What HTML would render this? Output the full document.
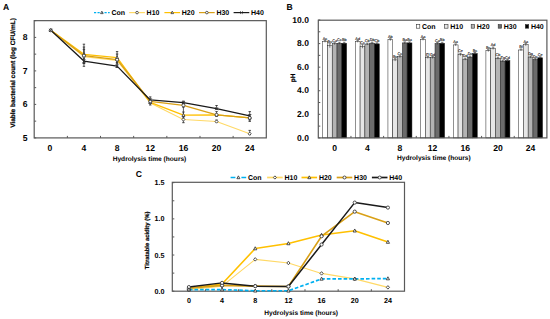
<!DOCTYPE html><html><head><meta charset="utf-8"><style>html,body{margin:0;padding:0;background:#fff;width:550px;height:319px;overflow:hidden}svg{display:block}text{font-family:"Liberation Sans",sans-serif;text-rendering:geometricPrecision}</style></head><body>
<svg width="550" height="319" viewBox="0 0 550 319">
<rect width="550" height="319" fill="#fff"/>
<text x="3.00" y="10.40" font-size="8.6" text-anchor="start" font-weight="bold" fill="#000" >A</text>
<rect x="34.2" y="20.65" width="232.10000000000002" height="117.25" fill="none" stroke="#595959" stroke-width="1.2"/>
<line x1="34.20" y1="137.90" x2="36.20" y2="137.90" stroke="#595959" stroke-width="1" />
<line x1="34.20" y1="121.15" x2="36.20" y2="121.15" stroke="#595959" stroke-width="1" />
<line x1="34.20" y1="104.40" x2="36.20" y2="104.40" stroke="#595959" stroke-width="1" />
<line x1="34.20" y1="87.65" x2="36.20" y2="87.65" stroke="#595959" stroke-width="1" />
<line x1="34.20" y1="70.90" x2="36.20" y2="70.90" stroke="#595959" stroke-width="1" />
<line x1="34.20" y1="54.15" x2="36.20" y2="54.15" stroke="#595959" stroke-width="1" />
<line x1="34.20" y1="37.40" x2="36.20" y2="37.40" stroke="#595959" stroke-width="1" />
<line x1="34.20" y1="20.65" x2="36.20" y2="20.65" stroke="#595959" stroke-width="1" />
<text x="27.60" y="140.90" font-size="8.6" text-anchor="end" font-weight="bold" fill="#000" >5</text>
<text x="27.60" y="107.40" font-size="8.6" text-anchor="end" font-weight="bold" fill="#000" >6</text>
<text x="27.60" y="73.90" font-size="8.6" text-anchor="end" font-weight="bold" fill="#000" >7</text>
<text x="27.60" y="40.40" font-size="8.6" text-anchor="end" font-weight="bold" fill="#000" >8</text>
<line x1="67.36" y1="137.90" x2="67.36" y2="135.90" stroke="#595959" stroke-width="1" />
<line x1="100.51" y1="137.90" x2="100.51" y2="135.90" stroke="#595959" stroke-width="1" />
<line x1="133.67" y1="137.90" x2="133.67" y2="135.90" stroke="#595959" stroke-width="1" />
<line x1="166.83" y1="137.90" x2="166.83" y2="135.90" stroke="#595959" stroke-width="1" />
<line x1="199.99" y1="137.90" x2="199.99" y2="135.90" stroke="#595959" stroke-width="1" />
<line x1="233.14" y1="137.90" x2="233.14" y2="135.90" stroke="#595959" stroke-width="1" />
<text x="49.78" y="151.40" font-size="8.6" text-anchor="middle" font-weight="bold" fill="#000" >0</text>
<text x="83.94" y="151.40" font-size="8.6" text-anchor="middle" font-weight="bold" fill="#000" >4</text>
<text x="117.09" y="151.40" font-size="8.6" text-anchor="middle" font-weight="bold" fill="#000" >8</text>
<text x="150.25" y="151.40" font-size="8.6" text-anchor="middle" font-weight="bold" fill="#000" >12</text>
<text x="183.41" y="151.40" font-size="8.6" text-anchor="middle" font-weight="bold" fill="#000" >16</text>
<text x="216.56" y="151.40" font-size="8.6" text-anchor="middle" font-weight="bold" fill="#000" >20</text>
<text x="249.72" y="151.40" font-size="8.6" text-anchor="middle" font-weight="bold" fill="#000" >24</text>
<text x="149.50" y="161.10" font-size="6.6" text-anchor="middle" font-weight="bold" fill="#000" >Hydrolysis time (hours)</text>
<text x="0.00" y="0.00" font-size="6.5" text-anchor="middle" font-weight="bold" fill="#000" transform="translate(14.6,73) rotate(-90)" stroke="#000" stroke-width="0.2">Viable bacterial count (log CFU/mL)</text>
<line x1="83.94" y1="44.20" x2="83.94" y2="63.60" stroke="#333" stroke-width="0.8" />
<line x1="82.74" y1="44.20" x2="85.14" y2="44.20" stroke="#333" stroke-width="0.9" />
<line x1="82.74" y1="63.60" x2="85.14" y2="63.60" stroke="#333" stroke-width="0.9" />
<line x1="83.94" y1="47.00" x2="83.94" y2="63.40" stroke="#333" stroke-width="0.8" />
<line x1="82.74" y1="47.00" x2="85.14" y2="47.00" stroke="#333" stroke-width="0.9" />
<line x1="82.74" y1="63.40" x2="85.14" y2="63.40" stroke="#333" stroke-width="0.9" />
<line x1="83.94" y1="49.40" x2="83.94" y2="63.00" stroke="#333" stroke-width="0.8" />
<line x1="82.74" y1="49.40" x2="85.14" y2="49.40" stroke="#333" stroke-width="0.9" />
<line x1="82.74" y1="63.00" x2="85.14" y2="63.00" stroke="#333" stroke-width="0.9" />
<line x1="83.94" y1="53.70" x2="83.94" y2="66.30" stroke="#333" stroke-width="0.8" />
<line x1="82.74" y1="53.70" x2="85.14" y2="53.70" stroke="#333" stroke-width="0.9" />
<line x1="82.74" y1="66.30" x2="85.14" y2="66.30" stroke="#333" stroke-width="0.9" />
<line x1="117.09" y1="51.60" x2="117.09" y2="63.00" stroke="#333" stroke-width="0.8" />
<line x1="115.89" y1="51.60" x2="118.29" y2="51.60" stroke="#333" stroke-width="0.9" />
<line x1="115.89" y1="63.00" x2="118.29" y2="63.00" stroke="#333" stroke-width="0.9" />
<line x1="117.09" y1="54.00" x2="117.09" y2="64.20" stroke="#333" stroke-width="0.8" />
<line x1="115.89" y1="54.00" x2="118.29" y2="54.00" stroke="#333" stroke-width="0.9" />
<line x1="115.89" y1="64.20" x2="118.29" y2="64.20" stroke="#333" stroke-width="0.9" />
<line x1="117.09" y1="62.50" x2="117.09" y2="67.50" stroke="#333" stroke-width="0.8" />
<line x1="115.89" y1="62.50" x2="118.29" y2="62.50" stroke="#333" stroke-width="0.9" />
<line x1="115.89" y1="67.50" x2="118.29" y2="67.50" stroke="#333" stroke-width="0.9" />
<line x1="150.25" y1="96.90" x2="150.25" y2="101.00" stroke="#333" stroke-width="0.8" />
<line x1="149.05" y1="96.90" x2="151.45" y2="96.90" stroke="#333" stroke-width="0.9" />
<line x1="149.05" y1="101.00" x2="151.45" y2="101.00" stroke="#333" stroke-width="0.9" />
<line x1="150.25" y1="99.00" x2="150.25" y2="105.00" stroke="#333" stroke-width="0.8" />
<line x1="149.05" y1="99.00" x2="151.45" y2="99.00" stroke="#333" stroke-width="0.9" />
<line x1="149.05" y1="105.00" x2="151.45" y2="105.00" stroke="#333" stroke-width="0.9" />
<line x1="183.41" y1="101.10" x2="183.41" y2="107.20" stroke="#333" stroke-width="0.8" />
<line x1="182.21" y1="101.10" x2="184.61" y2="101.10" stroke="#333" stroke-width="0.9" />
<line x1="182.21" y1="107.20" x2="184.61" y2="107.20" stroke="#333" stroke-width="0.9" />
<line x1="183.41" y1="103.50" x2="183.41" y2="115.20" stroke="#333" stroke-width="0.8" />
<line x1="182.21" y1="103.50" x2="184.61" y2="103.50" stroke="#333" stroke-width="0.9" />
<line x1="182.21" y1="115.20" x2="184.61" y2="115.20" stroke="#333" stroke-width="0.9" />
<line x1="183.41" y1="112.00" x2="183.41" y2="118.00" stroke="#333" stroke-width="0.8" />
<line x1="182.21" y1="112.00" x2="184.61" y2="112.00" stroke="#333" stroke-width="0.9" />
<line x1="182.21" y1="118.00" x2="184.61" y2="118.00" stroke="#333" stroke-width="0.9" />
<line x1="183.41" y1="116.50" x2="183.41" y2="122.70" stroke="#333" stroke-width="0.8" />
<line x1="182.21" y1="116.50" x2="184.61" y2="116.50" stroke="#333" stroke-width="0.9" />
<line x1="182.21" y1="122.70" x2="184.61" y2="122.70" stroke="#333" stroke-width="0.9" />
<line x1="216.56" y1="105.50" x2="216.56" y2="109.30" stroke="#333" stroke-width="0.8" />
<line x1="215.36" y1="105.50" x2="217.76" y2="105.50" stroke="#333" stroke-width="0.9" />
<line x1="215.36" y1="109.30" x2="217.76" y2="109.30" stroke="#333" stroke-width="0.9" />
<line x1="216.56" y1="111.60" x2="216.56" y2="116.30" stroke="#333" stroke-width="0.8" />
<line x1="215.36" y1="111.60" x2="217.76" y2="111.60" stroke="#333" stroke-width="0.9" />
<line x1="215.36" y1="116.30" x2="217.76" y2="116.30" stroke="#333" stroke-width="0.9" />
<line x1="216.56" y1="120.00" x2="216.56" y2="122.00" stroke="#333" stroke-width="0.8" />
<line x1="215.36" y1="120.00" x2="217.76" y2="120.00" stroke="#333" stroke-width="0.9" />
<line x1="215.36" y1="122.00" x2="217.76" y2="122.00" stroke="#333" stroke-width="0.9" />
<line x1="249.72" y1="111.60" x2="249.72" y2="121.40" stroke="#333" stroke-width="0.8" />
<line x1="248.52" y1="111.60" x2="250.92" y2="111.60" stroke="#333" stroke-width="0.9" />
<line x1="248.52" y1="121.40" x2="250.92" y2="121.40" stroke="#333" stroke-width="0.9" />
<line x1="249.72" y1="114.50" x2="249.72" y2="120.00" stroke="#333" stroke-width="0.8" />
<line x1="248.52" y1="114.50" x2="250.92" y2="114.50" stroke="#333" stroke-width="0.9" />
<line x1="248.52" y1="120.00" x2="250.92" y2="120.00" stroke="#333" stroke-width="0.9" />
<line x1="249.72" y1="130.40" x2="249.72" y2="134.60" stroke="#333" stroke-width="0.8" />
<line x1="248.52" y1="130.40" x2="250.92" y2="130.40" stroke="#333" stroke-width="0.9" />
<line x1="248.52" y1="134.60" x2="250.92" y2="134.60" stroke="#333" stroke-width="0.9" />
<polyline points="50.78,30.30 83.94,56.67 117.09,60.38 150.25,102.97 183.41,119.53 216.56,121.56 249.72,133.73" fill="none" stroke="#ffd966" stroke-width="1.1" stroke-linejoin="round" />
<polyline points="50.78,30.30 83.94,54.30 117.09,57.68 150.25,102.30 183.41,115.14 216.56,114.80 249.72,117.84" fill="none" stroke="#ffc000" stroke-width="1.3" stroke-linejoin="round" />
<polyline points="50.78,30.30 83.94,55.65 117.09,59.71 150.25,101.28 183.41,105.34 216.56,114.80 249.72,117.84" fill="none" stroke="#d9a016" stroke-width="1.3" stroke-linejoin="round" />
<polyline points="50.78,30.30 83.94,61.06 117.09,66.13 150.25,99.93 183.41,102.63 216.56,108.72 249.72,115.92" fill="none" stroke="#1a1a1a" stroke-width="1.3" stroke-linejoin="round" />
<polygon points="50.78,28.65 52.28,30.30 50.78,31.95 49.28,30.30" fill="#fff" stroke="#333" stroke-width="0.8"/>
<polygon points="83.94,55.02 85.44,56.67 83.94,58.32 82.44,56.67" fill="#fff" stroke="#333" stroke-width="0.8"/>
<polygon points="117.09,58.73 118.59,60.38 117.09,62.03 115.59,60.38" fill="#fff" stroke="#333" stroke-width="0.8"/>
<polygon points="150.25,101.32 151.75,102.97 150.25,104.62 148.75,102.97" fill="#fff" stroke="#333" stroke-width="0.8"/>
<polygon points="183.41,117.88 184.91,119.53 183.41,121.18 181.91,119.53" fill="#fff" stroke="#333" stroke-width="0.8"/>
<polygon points="216.56,119.91 218.06,121.56 216.56,123.21 215.06,121.56" fill="#fff" stroke="#333" stroke-width="0.8"/>
<polygon points="249.72,132.08 251.22,133.73 249.72,135.38 248.22,133.73" fill="#fff" stroke="#333" stroke-width="0.8"/>
<polygon points="50.78,28.65 52.28,31.50 49.28,31.50" fill="#fff" stroke="#333" stroke-width="0.8"/>
<polygon points="83.94,52.65 85.44,55.50 82.44,55.50" fill="#fff" stroke="#333" stroke-width="0.8"/>
<polygon points="117.09,56.03 118.59,58.88 115.59,58.88" fill="#fff" stroke="#333" stroke-width="0.8"/>
<polygon points="150.25,100.65 151.75,103.50 148.75,103.50" fill="#fff" stroke="#333" stroke-width="0.8"/>
<polygon points="183.41,113.49 184.91,116.34 181.91,116.34" fill="#fff" stroke="#333" stroke-width="0.8"/>
<polygon points="216.56,113.15 218.06,116.00 215.06,116.00" fill="#fff" stroke="#333" stroke-width="0.8"/>
<polygon points="249.72,116.19 251.22,119.04 248.22,119.04" fill="#fff" stroke="#333" stroke-width="0.8"/>
<circle cx="50.78" cy="30.30" r="1.5" fill="#fff" stroke="#333" stroke-width="0.8"/>
<circle cx="83.94" cy="55.65" r="1.5" fill="#fff" stroke="#333" stroke-width="0.8"/>
<circle cx="117.09" cy="59.71" r="1.5" fill="#fff" stroke="#333" stroke-width="0.8"/>
<circle cx="150.25" cy="101.28" r="1.5" fill="#fff" stroke="#333" stroke-width="0.8"/>
<circle cx="183.41" cy="105.34" r="1.5" fill="#fff" stroke="#333" stroke-width="0.8"/>
<circle cx="216.56" cy="114.80" r="1.5" fill="#fff" stroke="#333" stroke-width="0.8"/>
<circle cx="249.72" cy="117.84" r="1.5" fill="#fff" stroke="#333" stroke-width="0.8"/>
<path d="M49.28,28.80L52.28,31.80M52.28,28.80L49.28,31.80" stroke="#333" stroke-width="0.8"/>
<path d="M82.44,59.56L85.44,62.56M85.44,59.56L82.44,62.56" stroke="#333" stroke-width="0.8"/>
<path d="M115.59,64.63L118.59,67.63M118.59,64.63L115.59,67.63" stroke="#333" stroke-width="0.8"/>
<path d="M148.75,98.43L151.75,101.43M151.75,98.43L148.75,101.43" stroke="#333" stroke-width="0.8"/>
<path d="M181.91,101.13L184.91,104.13M184.91,101.13L181.91,104.13" stroke="#333" stroke-width="0.8"/>
<path d="M215.06,107.22L218.06,110.22M218.06,107.22L215.06,110.22" stroke="#333" stroke-width="0.8"/>
<path d="M248.22,114.42L251.22,117.42M251.22,114.42L248.22,117.42" stroke="#333" stroke-width="0.8"/>
<line x1="94.00" y1="12.60" x2="109.70" y2="12.60" stroke="#00b0f0" stroke-width="1.3" stroke-dasharray="2.2,1.3"/>
<polygon points="101.85,11.17 103.15,13.64 100.55,13.64" fill="#fff" stroke="#333" stroke-width="0.8"/>
<text x="111.40" y="15.10" font-size="7" text-anchor="start" font-weight="bold" fill="#000" >Con</text>
<line x1="129.20" y1="12.60" x2="144.90" y2="12.60" stroke="#ffd966" stroke-width="1.2" />
<circle cx="137.05" cy="12.60" r="1.3" fill="#fff" stroke="#333" stroke-width="0.8"/>
<text x="146.60" y="15.10" font-size="7" text-anchor="start" font-weight="bold" fill="#000" >H10</text>
<line x1="164.40" y1="12.60" x2="180.10" y2="12.60" stroke="#ffc000" stroke-width="1.2" />
<polygon points="172.25,11.17 173.55,13.64 170.95,13.64" fill="#fff" stroke="#333" stroke-width="0.8"/>
<text x="181.80" y="15.10" font-size="7" text-anchor="start" font-weight="bold" fill="#000" >H20</text>
<line x1="199.00" y1="12.60" x2="214.70" y2="12.60" stroke="#d9a016" stroke-width="1.2" />
<circle cx="206.85" cy="12.60" r="1.3" fill="#fff" stroke="#333" stroke-width="0.8"/>
<text x="216.40" y="15.10" font-size="7" text-anchor="start" font-weight="bold" fill="#000" >H30</text>
<line x1="233.60" y1="12.60" x2="249.30" y2="12.60" stroke="#1a1a1a" stroke-width="1.2" />
<path d="M240.15,11.30L242.75,13.90M242.75,11.30L240.15,13.90" stroke="#333" stroke-width="0.8"/>
<text x="251.00" y="15.10" font-size="7" text-anchor="start" font-weight="bold" fill="#000" >H40</text>
<text x="286.40" y="10.40" font-size="8.6" text-anchor="start" font-weight="bold" fill="#000" >B</text>
<rect x="322.63" y="41.37" width="4.8" height="96.53" fill="#ffffff" stroke="#222" stroke-width="0.5"/>
<line x1="325.03" y1="40.37" x2="325.03" y2="42.37" stroke="#333" stroke-width="0.6" />
<line x1="323.73" y1="40.37" x2="326.33" y2="40.37" stroke="#333" stroke-width="0.6" />
<text x="325.03" y="39.57" font-size="3.8" text-anchor="middle" font-weight="normal" fill="#111" stroke="#111" stroke-width="0.12">Ac</text>
<rect x="327.43" y="45.73" width="4.8" height="92.17" fill="#e6e6e6" stroke="#222" stroke-width="0.5"/>
<line x1="329.83" y1="43.73" x2="329.83" y2="47.73" stroke="#333" stroke-width="0.6" />
<line x1="328.53" y1="43.73" x2="331.13" y2="43.73" stroke="#333" stroke-width="0.6" />
<text x="329.83" y="42.93" font-size="3.8" text-anchor="middle" font-weight="normal" fill="#111" stroke="#111" stroke-width="0.12">Bc</text>
<rect x="332.23" y="43.73" width="4.8" height="94.17" fill="#b3b3b3" stroke="#222" stroke-width="0.5"/>
<line x1="334.63" y1="42.73" x2="334.63" y2="44.73" stroke="#333" stroke-width="0.6" />
<line x1="333.33" y1="42.73" x2="335.93" y2="42.73" stroke="#333" stroke-width="0.6" />
<text x="334.63" y="41.93" font-size="3.8" text-anchor="middle" font-weight="normal" fill="#111" stroke="#111" stroke-width="0.12">Ca</text>
<rect x="337.03" y="43.25" width="4.8" height="94.65" fill="#6b6b6b" stroke="#222" stroke-width="0.5"/>
<line x1="339.43" y1="42.25" x2="339.43" y2="44.25" stroke="#333" stroke-width="0.6" />
<line x1="338.13" y1="42.25" x2="340.73" y2="42.25" stroke="#333" stroke-width="0.6" />
<text x="339.43" y="41.45" font-size="3.8" text-anchor="middle" font-weight="normal" fill="#111" stroke="#111" stroke-width="0.12">Cc</text>
<rect x="341.83" y="43.25" width="4.8" height="94.65" fill="#000000" stroke="#222" stroke-width="0.5"/>
<line x1="344.23" y1="42.25" x2="344.23" y2="44.25" stroke="#333" stroke-width="0.6" />
<line x1="342.93" y1="42.25" x2="345.53" y2="42.25" stroke="#333" stroke-width="0.6" />
<text x="344.23" y="41.45" font-size="3.8" text-anchor="middle" font-weight="normal" fill="#111" stroke="#111" stroke-width="0.12">Bb</text>
<rect x="355.29" y="41.37" width="4.8" height="96.53" fill="#ffffff" stroke="#222" stroke-width="0.5"/>
<line x1="357.69" y1="40.37" x2="357.69" y2="42.37" stroke="#333" stroke-width="0.6" />
<line x1="356.39" y1="40.37" x2="358.99" y2="40.37" stroke="#333" stroke-width="0.6" />
<text x="357.69" y="39.57" font-size="3.8" text-anchor="middle" font-weight="normal" fill="#111" stroke="#111" stroke-width="0.12">Ad</text>
<rect x="360.09" y="46.44" width="4.8" height="91.46" fill="#e6e6e6" stroke="#222" stroke-width="0.5"/>
<line x1="362.49" y1="44.64" x2="362.49" y2="48.24" stroke="#333" stroke-width="0.6" />
<line x1="361.19" y1="44.64" x2="363.79" y2="44.64" stroke="#333" stroke-width="0.6" />
<text x="362.49" y="43.84" font-size="3.8" text-anchor="middle" font-weight="normal" fill="#111" stroke="#111" stroke-width="0.12">Cc</text>
<rect x="364.89" y="44.08" width="4.8" height="93.82" fill="#b3b3b3" stroke="#222" stroke-width="0.5"/>
<line x1="367.29" y1="43.08" x2="367.29" y2="45.08" stroke="#333" stroke-width="0.6" />
<line x1="365.99" y1="43.08" x2="368.59" y2="43.08" stroke="#333" stroke-width="0.6" />
<text x="367.29" y="42.28" font-size="3.8" text-anchor="middle" font-weight="normal" fill="#111" stroke="#111" stroke-width="0.12">Cb</text>
<rect x="369.69" y="43.14" width="4.8" height="94.76" fill="#6b6b6b" stroke="#222" stroke-width="0.5"/>
<line x1="372.09" y1="42.14" x2="372.09" y2="44.14" stroke="#333" stroke-width="0.6" />
<line x1="370.79" y1="42.14" x2="373.39" y2="42.14" stroke="#333" stroke-width="0.6" />
<text x="372.09" y="41.34" font-size="3.8" text-anchor="middle" font-weight="normal" fill="#111" stroke="#111" stroke-width="0.12">Db</text>
<rect x="374.49" y="43.84" width="4.8" height="94.06" fill="#000000" stroke="#222" stroke-width="0.5"/>
<line x1="376.89" y1="42.84" x2="376.89" y2="44.84" stroke="#333" stroke-width="0.6" />
<line x1="375.59" y1="42.84" x2="378.19" y2="42.84" stroke="#333" stroke-width="0.6" />
<text x="376.89" y="42.04" font-size="3.8" text-anchor="middle" font-weight="normal" fill="#111" stroke="#111" stroke-width="0.12">Cb</text>
<rect x="387.94" y="39.72" width="4.8" height="98.18" fill="#ffffff" stroke="#222" stroke-width="0.5"/>
<line x1="390.34" y1="38.72" x2="390.34" y2="40.72" stroke="#333" stroke-width="0.6" />
<line x1="389.04" y1="38.72" x2="391.64" y2="38.72" stroke="#333" stroke-width="0.6" />
<text x="390.34" y="37.92" font-size="3.8" text-anchor="middle" font-weight="normal" fill="#111" stroke="#111" stroke-width="0.12">Ab</text>
<rect x="392.74" y="59.88" width="4.8" height="78.02" fill="#e6e6e6" stroke="#222" stroke-width="0.5"/>
<line x1="395.14" y1="58.68" x2="395.14" y2="61.08" stroke="#333" stroke-width="0.6" />
<line x1="393.84" y1="58.68" x2="396.44" y2="58.68" stroke="#333" stroke-width="0.6" />
<text x="395.14" y="57.88" font-size="3.8" text-anchor="middle" font-weight="normal" fill="#111" stroke="#111" stroke-width="0.12">Bc</text>
<rect x="397.54" y="56.70" width="4.8" height="81.20" fill="#b3b3b3" stroke="#222" stroke-width="0.5"/>
<line x1="399.94" y1="55.70" x2="399.94" y2="57.70" stroke="#333" stroke-width="0.6" />
<line x1="398.64" y1="55.70" x2="401.24" y2="55.70" stroke="#333" stroke-width="0.6" />
<text x="399.94" y="54.90" font-size="3.8" text-anchor="middle" font-weight="normal" fill="#111" stroke="#111" stroke-width="0.12">Cc</text>
<rect x="402.34" y="42.90" width="4.8" height="95.00" fill="#6b6b6b" stroke="#222" stroke-width="0.5"/>
<line x1="404.74" y1="41.90" x2="404.74" y2="43.90" stroke="#333" stroke-width="0.6" />
<line x1="403.44" y1="41.90" x2="406.04" y2="41.90" stroke="#333" stroke-width="0.6" />
<text x="404.74" y="41.10" font-size="3.8" text-anchor="middle" font-weight="normal" fill="#111" stroke="#111" stroke-width="0.12">Ba</text>
<rect x="407.14" y="42.90" width="4.8" height="95.00" fill="#000000" stroke="#222" stroke-width="0.5"/>
<line x1="409.54" y1="41.90" x2="409.54" y2="43.90" stroke="#333" stroke-width="0.6" />
<line x1="408.24" y1="41.90" x2="410.84" y2="41.90" stroke="#333" stroke-width="0.6" />
<text x="409.54" y="41.10" font-size="3.8" text-anchor="middle" font-weight="normal" fill="#111" stroke="#111" stroke-width="0.12">Ba</text>
<rect x="420.60" y="39.36" width="4.8" height="98.54" fill="#ffffff" stroke="#222" stroke-width="0.5"/>
<line x1="423.00" y1="38.36" x2="423.00" y2="40.36" stroke="#333" stroke-width="0.6" />
<line x1="421.70" y1="38.36" x2="424.30" y2="38.36" stroke="#333" stroke-width="0.6" />
<text x="423.00" y="37.56" font-size="3.8" text-anchor="middle" font-weight="normal" fill="#111" stroke="#111" stroke-width="0.12">Aa</text>
<rect x="425.40" y="57.52" width="4.8" height="80.38" fill="#e6e6e6" stroke="#222" stroke-width="0.5"/>
<line x1="427.80" y1="56.52" x2="427.80" y2="58.52" stroke="#333" stroke-width="0.6" />
<line x1="426.50" y1="56.52" x2="429.10" y2="56.52" stroke="#333" stroke-width="0.6" />
<text x="427.80" y="55.72" font-size="3.8" text-anchor="middle" font-weight="normal" fill="#111" stroke="#111" stroke-width="0.12">Ef</text>
<rect x="430.20" y="57.52" width="4.8" height="80.38" fill="#b3b3b3" stroke="#222" stroke-width="0.5"/>
<line x1="432.60" y1="56.52" x2="432.60" y2="58.52" stroke="#333" stroke-width="0.6" />
<line x1="431.30" y1="56.52" x2="433.90" y2="56.52" stroke="#333" stroke-width="0.6" />
<text x="432.60" y="55.72" font-size="3.8" text-anchor="middle" font-weight="normal" fill="#111" stroke="#111" stroke-width="0.12">Dd</text>
<rect x="435.00" y="43.49" width="4.8" height="94.41" fill="#6b6b6b" stroke="#222" stroke-width="0.5"/>
<line x1="437.40" y1="42.49" x2="437.40" y2="44.49" stroke="#333" stroke-width="0.6" />
<line x1="436.10" y1="42.49" x2="438.70" y2="42.49" stroke="#333" stroke-width="0.6" />
<text x="437.40" y="41.69" font-size="3.8" text-anchor="middle" font-weight="normal" fill="#111" stroke="#111" stroke-width="0.12">Ca</text>
<rect x="439.80" y="43.25" width="4.8" height="94.65" fill="#000000" stroke="#222" stroke-width="0.5"/>
<line x1="442.20" y1="42.25" x2="442.20" y2="44.25" stroke="#333" stroke-width="0.6" />
<line x1="440.90" y1="42.25" x2="443.50" y2="42.25" stroke="#333" stroke-width="0.6" />
<text x="442.20" y="41.45" font-size="3.8" text-anchor="middle" font-weight="normal" fill="#111" stroke="#111" stroke-width="0.12">Bb</text>
<rect x="453.26" y="44.91" width="4.8" height="92.99" fill="#ffffff" stroke="#222" stroke-width="0.5"/>
<line x1="455.66" y1="43.91" x2="455.66" y2="45.91" stroke="#333" stroke-width="0.6" />
<line x1="454.36" y1="43.91" x2="456.96" y2="43.91" stroke="#333" stroke-width="0.6" />
<text x="455.66" y="43.11" font-size="3.8" text-anchor="middle" font-weight="normal" fill="#111" stroke="#111" stroke-width="0.12">Aa</text>
<rect x="458.06" y="54.46" width="4.8" height="83.44" fill="#e6e6e6" stroke="#222" stroke-width="0.5"/>
<line x1="460.46" y1="53.26" x2="460.46" y2="55.66" stroke="#333" stroke-width="0.6" />
<line x1="459.16" y1="53.26" x2="461.76" y2="53.26" stroke="#333" stroke-width="0.6" />
<text x="460.46" y="52.46" font-size="3.8" text-anchor="middle" font-weight="normal" fill="#111" stroke="#111" stroke-width="0.12">Ce</text>
<rect x="462.86" y="59.17" width="4.8" height="78.73" fill="#b3b3b3" stroke="#222" stroke-width="0.5"/>
<line x1="465.26" y1="58.17" x2="465.26" y2="60.17" stroke="#333" stroke-width="0.6" />
<line x1="463.96" y1="58.17" x2="466.56" y2="58.17" stroke="#333" stroke-width="0.6" />
<text x="465.26" y="57.37" font-size="3.8" text-anchor="middle" font-weight="normal" fill="#111" stroke="#111" stroke-width="0.12">Dd</text>
<rect x="467.66" y="57.05" width="4.8" height="80.85" fill="#6b6b6b" stroke="#222" stroke-width="0.5"/>
<line x1="470.06" y1="56.05" x2="470.06" y2="58.05" stroke="#333" stroke-width="0.6" />
<line x1="468.76" y1="56.05" x2="471.36" y2="56.05" stroke="#333" stroke-width="0.6" />
<text x="470.06" y="55.25" font-size="3.8" text-anchor="middle" font-weight="normal" fill="#111" stroke="#111" stroke-width="0.12">Dc</text>
<rect x="472.46" y="53.51" width="4.8" height="84.39" fill="#000000" stroke="#222" stroke-width="0.5"/>
<line x1="474.86" y1="52.51" x2="474.86" y2="54.51" stroke="#333" stroke-width="0.6" />
<line x1="473.56" y1="52.51" x2="476.16" y2="52.51" stroke="#333" stroke-width="0.6" />
<text x="474.86" y="51.71" font-size="3.8" text-anchor="middle" font-weight="normal" fill="#111" stroke="#111" stroke-width="0.12">Bc</text>
<rect x="485.91" y="50.68" width="4.8" height="87.22" fill="#ffffff" stroke="#222" stroke-width="0.5"/>
<line x1="488.31" y1="49.68" x2="488.31" y2="51.68" stroke="#333" stroke-width="0.6" />
<line x1="487.01" y1="49.68" x2="489.61" y2="49.68" stroke="#333" stroke-width="0.6" />
<text x="488.31" y="48.88" font-size="3.8" text-anchor="middle" font-weight="normal" fill="#111" stroke="#111" stroke-width="0.12">Bc</text>
<rect x="490.71" y="48.21" width="4.8" height="89.69" fill="#e6e6e6" stroke="#222" stroke-width="0.5"/>
<line x1="493.11" y1="47.01" x2="493.11" y2="49.41" stroke="#333" stroke-width="0.6" />
<line x1="491.81" y1="47.01" x2="494.41" y2="47.01" stroke="#333" stroke-width="0.6" />
<text x="493.11" y="46.21" font-size="3.8" text-anchor="middle" font-weight="normal" fill="#111" stroke="#111" stroke-width="0.12">Ad</text>
<rect x="495.51" y="58.23" width="4.8" height="79.67" fill="#b3b3b3" stroke="#222" stroke-width="0.5"/>
<line x1="497.91" y1="57.23" x2="497.91" y2="59.23" stroke="#333" stroke-width="0.6" />
<line x1="496.61" y1="57.23" x2="499.21" y2="57.23" stroke="#333" stroke-width="0.6" />
<text x="497.91" y="56.43" font-size="3.8" text-anchor="middle" font-weight="normal" fill="#111" stroke="#111" stroke-width="0.12">Cb</text>
<rect x="500.31" y="61.06" width="4.8" height="76.84" fill="#6b6b6b" stroke="#222" stroke-width="0.5"/>
<line x1="502.71" y1="60.06" x2="502.71" y2="62.06" stroke="#333" stroke-width="0.6" />
<line x1="501.41" y1="60.06" x2="504.01" y2="60.06" stroke="#333" stroke-width="0.6" />
<text x="502.71" y="59.26" font-size="3.8" text-anchor="middle" font-weight="normal" fill="#111" stroke="#111" stroke-width="0.12">Eg</text>
<rect x="505.11" y="60.59" width="4.8" height="77.31" fill="#000000" stroke="#222" stroke-width="0.5"/>
<line x1="507.51" y1="59.59" x2="507.51" y2="61.59" stroke="#333" stroke-width="0.6" />
<line x1="506.21" y1="59.59" x2="508.81" y2="59.59" stroke="#333" stroke-width="0.6" />
<text x="507.51" y="58.79" font-size="3.8" text-anchor="middle" font-weight="normal" fill="#111" stroke="#111" stroke-width="0.12">Cd</text>
<rect x="518.57" y="49.98" width="4.8" height="87.92" fill="#ffffff" stroke="#222" stroke-width="0.5"/>
<line x1="520.97" y1="48.98" x2="520.97" y2="50.98" stroke="#333" stroke-width="0.6" />
<line x1="519.67" y1="48.98" x2="522.27" y2="48.98" stroke="#333" stroke-width="0.6" />
<text x="520.97" y="48.18" font-size="3.8" text-anchor="middle" font-weight="normal" fill="#111" stroke="#111" stroke-width="0.12">Bf</text>
<rect x="523.37" y="44.55" width="4.8" height="93.35" fill="#e6e6e6" stroke="#222" stroke-width="0.5"/>
<line x1="525.77" y1="43.35" x2="525.77" y2="45.75" stroke="#333" stroke-width="0.6" />
<line x1="524.47" y1="43.35" x2="527.07" y2="43.35" stroke="#333" stroke-width="0.6" />
<text x="525.77" y="42.55" font-size="3.8" text-anchor="middle" font-weight="normal" fill="#111" stroke="#111" stroke-width="0.12">Aa</text>
<rect x="528.17" y="57.05" width="4.8" height="80.85" fill="#b3b3b3" stroke="#222" stroke-width="0.5"/>
<line x1="530.57" y1="56.05" x2="530.57" y2="58.05" stroke="#333" stroke-width="0.6" />
<line x1="529.27" y1="56.05" x2="531.87" y2="56.05" stroke="#333" stroke-width="0.6" />
<text x="530.57" y="55.25" font-size="3.8" text-anchor="middle" font-weight="normal" fill="#111" stroke="#111" stroke-width="0.12">Dg</text>
<rect x="532.97" y="59.41" width="4.8" height="78.49" fill="#6b6b6b" stroke="#222" stroke-width="0.5"/>
<line x1="535.37" y1="58.41" x2="535.37" y2="60.41" stroke="#333" stroke-width="0.6" />
<line x1="534.07" y1="58.41" x2="536.67" y2="58.41" stroke="#333" stroke-width="0.6" />
<text x="535.37" y="57.61" font-size="3.8" text-anchor="middle" font-weight="normal" fill="#111" stroke="#111" stroke-width="0.12">Dc</text>
<rect x="537.77" y="57.76" width="4.8" height="80.14" fill="#000000" stroke="#222" stroke-width="0.5"/>
<line x1="540.17" y1="56.76" x2="540.17" y2="58.76" stroke="#333" stroke-width="0.6" />
<line x1="538.87" y1="56.76" x2="541.47" y2="56.76" stroke="#333" stroke-width="0.6" />
<text x="540.17" y="55.96" font-size="3.8" text-anchor="middle" font-weight="normal" fill="#111" stroke="#111" stroke-width="0.12">Ce</text>
<rect x="318.3" y="20.2" width="228.59999999999997" height="117.7" fill="none" stroke="#595959" stroke-width="1.2"/>
<line x1="318.30" y1="137.90" x2="320.30" y2="137.90" stroke="#595959" stroke-width="1" />
<line x1="318.30" y1="126.11" x2="320.30" y2="126.11" stroke="#595959" stroke-width="1" />
<line x1="318.30" y1="114.32" x2="320.30" y2="114.32" stroke="#595959" stroke-width="1" />
<line x1="318.30" y1="102.53" x2="320.30" y2="102.53" stroke="#595959" stroke-width="1" />
<line x1="318.30" y1="90.74" x2="320.30" y2="90.74" stroke="#595959" stroke-width="1" />
<line x1="318.30" y1="78.95" x2="320.30" y2="78.95" stroke="#595959" stroke-width="1" />
<line x1="318.30" y1="67.16" x2="320.30" y2="67.16" stroke="#595959" stroke-width="1" />
<line x1="318.30" y1="55.37" x2="320.30" y2="55.37" stroke="#595959" stroke-width="1" />
<line x1="318.30" y1="43.58" x2="320.30" y2="43.58" stroke="#595959" stroke-width="1" />
<line x1="318.30" y1="31.79" x2="320.30" y2="31.79" stroke="#595959" stroke-width="1" />
<line x1="318.30" y1="20.00" x2="320.30" y2="20.00" stroke="#595959" stroke-width="1" />
<text x="308.90" y="140.60" font-size="8.5" text-anchor="end" font-weight="bold" fill="#000" >0.0</text>
<text x="308.90" y="117.02" font-size="8.5" text-anchor="end" font-weight="bold" fill="#000" >2.0</text>
<text x="308.90" y="93.44" font-size="8.5" text-anchor="end" font-weight="bold" fill="#000" >4.0</text>
<text x="308.90" y="69.86" font-size="8.5" text-anchor="end" font-weight="bold" fill="#000" >6.0</text>
<text x="308.90" y="46.28" font-size="8.5" text-anchor="end" font-weight="bold" fill="#000" >8.0</text>
<text x="308.90" y="22.70" font-size="8.5" text-anchor="end" font-weight="bold" fill="#000" >10.0</text>
<line x1="350.96" y1="137.90" x2="350.96" y2="135.90" stroke="#595959" stroke-width="1" />
<line x1="383.61" y1="137.90" x2="383.61" y2="135.90" stroke="#595959" stroke-width="1" />
<line x1="416.27" y1="137.90" x2="416.27" y2="135.90" stroke="#595959" stroke-width="1" />
<line x1="448.93" y1="137.90" x2="448.93" y2="135.90" stroke="#595959" stroke-width="1" />
<line x1="481.59" y1="137.90" x2="481.59" y2="135.90" stroke="#595959" stroke-width="1" />
<line x1="514.24" y1="137.90" x2="514.24" y2="135.90" stroke="#595959" stroke-width="1" />
<text x="334.63" y="151.40" font-size="8.6" text-anchor="middle" font-weight="bold" fill="#000" >0</text>
<text x="367.29" y="151.40" font-size="8.6" text-anchor="middle" font-weight="bold" fill="#000" >4</text>
<text x="399.94" y="151.40" font-size="8.6" text-anchor="middle" font-weight="bold" fill="#000" >8</text>
<text x="432.60" y="151.40" font-size="8.6" text-anchor="middle" font-weight="bold" fill="#000" >12</text>
<text x="465.26" y="151.40" font-size="8.6" text-anchor="middle" font-weight="bold" fill="#000" >16</text>
<text x="497.91" y="151.40" font-size="8.6" text-anchor="middle" font-weight="bold" fill="#000" >20</text>
<text x="530.57" y="151.40" font-size="8.6" text-anchor="middle" font-weight="bold" fill="#000" >24</text>
<text x="433.90" y="160.40" font-size="6.6" text-anchor="middle" font-weight="bold" fill="#000" >Hydrolysis time (hours)</text>
<text x="0.00" y="0.00" font-size="6.4" text-anchor="middle" font-weight="bold" fill="#000" transform="translate(295.1,77.9) rotate(-90)" stroke="#000" stroke-width="0.25">pH</text>
<rect x="416.40" y="24.60" width="3.4" height="3.6" fill="#ffffff" stroke="#333" stroke-width="0.6"/>
<text x="422.00" y="29.00" font-size="7" text-anchor="start" font-weight="bold" fill="#000" >Con</text>
<rect x="444.60" y="24.60" width="3.4" height="3.6" fill="#e6e6e6" stroke="#333" stroke-width="0.6"/>
<text x="450.20" y="29.00" font-size="7" text-anchor="start" font-weight="bold" fill="#000" >H10</text>
<rect x="471.20" y="24.60" width="3.4" height="3.6" fill="#b3b3b3" stroke="#333" stroke-width="0.6"/>
<text x="476.80" y="29.00" font-size="7" text-anchor="start" font-weight="bold" fill="#000" >H20</text>
<rect x="498.20" y="24.60" width="3.4" height="3.6" fill="#6b6b6b" stroke="#333" stroke-width="0.6"/>
<text x="503.80" y="29.00" font-size="7" text-anchor="start" font-weight="bold" fill="#000" >H30</text>
<rect x="525.30" y="24.60" width="3.4" height="3.6" fill="#000000" stroke="#333" stroke-width="0.6"/>
<text x="530.90" y="29.00" font-size="7" text-anchor="start" font-weight="bold" fill="#000" >H40</text>
<text x="135.80" y="177.30" font-size="8.6" text-anchor="start" font-weight="bold" fill="#000" >C</text>
<rect x="172.3" y="182.3" width="232.2" height="108.89999999999998" fill="none" stroke="#595959" stroke-width="1.2"/>
<line x1="172.30" y1="291.20" x2="174.30" y2="291.20" stroke="#595959" stroke-width="1" />
<line x1="172.30" y1="273.12" x2="174.30" y2="273.12" stroke="#595959" stroke-width="1" />
<line x1="172.30" y1="255.03" x2="174.30" y2="255.03" stroke="#595959" stroke-width="1" />
<line x1="172.30" y1="236.95" x2="174.30" y2="236.95" stroke="#595959" stroke-width="1" />
<line x1="172.30" y1="218.87" x2="174.30" y2="218.87" stroke="#595959" stroke-width="1" />
<line x1="172.30" y1="200.79" x2="174.30" y2="200.79" stroke="#595959" stroke-width="1" />
<line x1="172.30" y1="182.70" x2="174.30" y2="182.70" stroke="#595959" stroke-width="1" />
<text x="164.60" y="293.80" font-size="7.2" text-anchor="end" font-weight="bold" fill="#000" >0.0</text>
<text x="164.60" y="257.63" font-size="7.2" text-anchor="end" font-weight="bold" fill="#000" >0.5</text>
<text x="164.60" y="221.47" font-size="7.2" text-anchor="end" font-weight="bold" fill="#000" >1.0</text>
<text x="164.60" y="185.30" font-size="7.2" text-anchor="end" font-weight="bold" fill="#000" >1.5</text>
<line x1="205.47" y1="291.20" x2="205.47" y2="289.20" stroke="#595959" stroke-width="1" />
<line x1="238.64" y1="291.20" x2="238.64" y2="289.20" stroke="#595959" stroke-width="1" />
<line x1="271.81" y1="291.20" x2="271.81" y2="289.20" stroke="#595959" stroke-width="1" />
<line x1="304.99" y1="291.20" x2="304.99" y2="289.20" stroke="#595959" stroke-width="1" />
<line x1="338.16" y1="291.20" x2="338.16" y2="289.20" stroke="#595959" stroke-width="1" />
<line x1="371.33" y1="291.20" x2="371.33" y2="289.20" stroke="#595959" stroke-width="1" />
<text x="188.89" y="302.90" font-size="7.2" text-anchor="middle" font-weight="bold" fill="#000" >0</text>
<text x="222.06" y="302.90" font-size="7.2" text-anchor="middle" font-weight="bold" fill="#000" >4</text>
<text x="255.23" y="302.90" font-size="7.2" text-anchor="middle" font-weight="bold" fill="#000" >8</text>
<text x="288.40" y="302.90" font-size="7.2" text-anchor="middle" font-weight="bold" fill="#000" >12</text>
<text x="321.57" y="302.90" font-size="7.2" text-anchor="middle" font-weight="bold" fill="#000" >16</text>
<text x="354.74" y="302.90" font-size="7.2" text-anchor="middle" font-weight="bold" fill="#000" >20</text>
<text x="387.91" y="302.90" font-size="7.2" text-anchor="middle" font-weight="bold" fill="#000" >24</text>
<text x="301.20" y="315.00" font-size="6.6" text-anchor="middle" font-weight="bold" fill="#000" >Hydrolysis time (hours)</text>
<text x="0.00" y="0.00" font-size="5.9" text-anchor="middle" font-weight="bold" fill="#000" transform="translate(148.7,240.4) rotate(-90)" stroke="#000" stroke-width="0.2">Titratable acidity (%)</text>
<polyline points="188.89,289.75 222.06,286.14 255.23,259.37 288.40,262.99 321.57,273.41 354.74,278.90 387.91,287.37" fill="none" stroke="#ffd966" stroke-width="1.1" stroke-linejoin="round" />
<polyline points="188.89,288.31 222.06,283.97 255.23,248.53 288.40,243.46 321.57,235.07 354.74,230.73 387.91,242.02" fill="none" stroke="#ffc000" stroke-width="1.6" stroke-linejoin="round" />
<polyline points="188.89,288.31 222.06,285.41 255.23,286.14 288.40,286.50 321.57,236.23 354.74,211.64 387.91,222.99" fill="none" stroke="#d9a016" stroke-width="1.6" stroke-linejoin="round" />
<polyline points="188.89,287.08 222.06,282.88 255.23,286.14 288.40,286.50 321.57,244.55 354.74,202.60 387.91,207.59" fill="none" stroke="#1a1a1a" stroke-width="1.5" stroke-linejoin="round" />
<polyline points="188.89,289.54 222.06,289.61 255.23,290.77 288.40,290.77 321.57,278.90 354.74,278.90 387.91,278.54" fill="none" stroke="#00b0f0" stroke-width="1.7" stroke-linejoin="round" stroke-dasharray="3.6,2"/>
<polygon points="188.89,287.99 190.49,289.75 188.89,291.51 187.29,289.75" fill="#fff" stroke="#333" stroke-width="0.85"/>
<polygon points="222.06,284.38 223.66,286.14 222.06,287.90 220.46,286.14" fill="#fff" stroke="#333" stroke-width="0.85"/>
<polygon points="255.23,257.61 256.83,259.37 255.23,261.13 253.63,259.37" fill="#fff" stroke="#333" stroke-width="0.85"/>
<polygon points="288.40,261.23 290.00,262.99 288.40,264.75 286.80,262.99" fill="#fff" stroke="#333" stroke-width="0.85"/>
<polygon points="321.57,271.65 323.17,273.41 321.57,275.17 319.97,273.41" fill="#fff" stroke="#333" stroke-width="0.85"/>
<polygon points="354.74,277.14 356.34,278.90 354.74,280.66 353.14,278.90" fill="#fff" stroke="#333" stroke-width="0.85"/>
<polygon points="387.91,285.61 389.51,287.37 387.91,289.13 386.31,287.37" fill="#fff" stroke="#333" stroke-width="0.85"/>
<polygon points="188.89,286.55 190.49,289.59 187.29,289.59" fill="#fff" stroke="#333" stroke-width="0.85"/>
<polygon points="222.06,282.21 223.66,285.25 220.46,285.25" fill="#fff" stroke="#333" stroke-width="0.85"/>
<polygon points="255.23,246.77 256.83,249.81 253.63,249.81" fill="#fff" stroke="#333" stroke-width="0.85"/>
<polygon points="288.40,241.70 290.00,244.74 286.80,244.74" fill="#fff" stroke="#333" stroke-width="0.85"/>
<polygon points="321.57,233.31 323.17,236.35 319.97,236.35" fill="#fff" stroke="#333" stroke-width="0.85"/>
<polygon points="354.74,228.97 356.34,232.01 353.14,232.01" fill="#fff" stroke="#333" stroke-width="0.85"/>
<polygon points="387.91,240.26 389.51,243.30 386.31,243.30" fill="#fff" stroke="#333" stroke-width="0.85"/>
<circle cx="188.89" cy="288.31" r="1.6" fill="#fff" stroke="#333" stroke-width="0.85"/>
<circle cx="222.06" cy="285.41" r="1.6" fill="#fff" stroke="#333" stroke-width="0.85"/>
<circle cx="255.23" cy="286.14" r="1.6" fill="#fff" stroke="#333" stroke-width="0.85"/>
<circle cx="288.40" cy="286.50" r="1.6" fill="#fff" stroke="#333" stroke-width="0.85"/>
<circle cx="321.57" cy="236.23" r="1.6" fill="#fff" stroke="#333" stroke-width="0.85"/>
<circle cx="354.74" cy="211.64" r="1.6" fill="#fff" stroke="#333" stroke-width="0.85"/>
<circle cx="387.91" cy="222.99" r="1.6" fill="#fff" stroke="#333" stroke-width="0.85"/>
<circle cx="188.89" cy="287.08" r="1.6" fill="#fff" stroke="#333" stroke-width="0.85"/>
<circle cx="222.06" cy="282.88" r="1.6" fill="#fff" stroke="#333" stroke-width="0.85"/>
<circle cx="255.23" cy="286.14" r="1.6" fill="#fff" stroke="#333" stroke-width="0.85"/>
<circle cx="288.40" cy="286.50" r="1.6" fill="#fff" stroke="#333" stroke-width="0.85"/>
<circle cx="321.57" cy="244.55" r="1.6" fill="#fff" stroke="#333" stroke-width="0.85"/>
<circle cx="354.74" cy="202.60" r="1.6" fill="#fff" stroke="#333" stroke-width="0.85"/>
<circle cx="387.91" cy="207.59" r="1.6" fill="#fff" stroke="#333" stroke-width="0.85"/>
<polygon points="188.89,287.78 190.49,290.82 187.29,290.82" fill="#fff" stroke="#333" stroke-width="0.85"/>
<polygon points="222.06,287.85 223.66,290.89 220.46,290.89" fill="#fff" stroke="#333" stroke-width="0.85"/>
<polygon points="255.23,289.01 256.83,292.05 253.63,292.05" fill="#fff" stroke="#333" stroke-width="0.85"/>
<polygon points="288.40,289.01 290.00,292.05 286.80,292.05" fill="#fff" stroke="#333" stroke-width="0.85"/>
<polygon points="321.57,277.14 323.17,280.18 319.97,280.18" fill="#fff" stroke="#333" stroke-width="0.85"/>
<polygon points="354.74,277.14 356.34,280.18 353.14,280.18" fill="#fff" stroke="#333" stroke-width="0.85"/>
<polygon points="387.91,276.78 389.51,279.82 386.31,279.82" fill="#fff" stroke="#333" stroke-width="0.85"/>
<line x1="230.60" y1="177.50" x2="246.20" y2="177.50" stroke="#00b0f0" stroke-width="1.6" stroke-dasharray="4.8,6.0"/>
<polygon points="238.40,175.85 239.90,178.70 236.90,178.70" fill="#fff" stroke="#333" stroke-width="0.85"/>
<text x="248.00" y="180.00" font-size="7" text-anchor="start" font-weight="bold" fill="#000" >Con</text>
<line x1="267.10" y1="177.50" x2="282.70" y2="177.50" stroke="#ffd966" stroke-width="1.7" />
<polygon points="274.90,175.85 276.40,177.50 274.90,179.15 273.40,177.50" fill="#fff" stroke="#333" stroke-width="0.85"/>
<text x="284.50" y="180.00" font-size="7" text-anchor="start" font-weight="bold" fill="#000" >H10</text>
<line x1="301.50" y1="177.50" x2="317.10" y2="177.50" stroke="#ffc000" stroke-width="1.7" />
<polygon points="309.30,175.85 310.80,178.70 307.80,178.70" fill="#fff" stroke="#333" stroke-width="0.85"/>
<text x="318.90" y="180.00" font-size="7" text-anchor="start" font-weight="bold" fill="#000" >H20</text>
<line x1="336.70" y1="177.50" x2="352.30" y2="177.50" stroke="#d9a016" stroke-width="1.7" />
<circle cx="344.50" cy="177.50" r="1.5" fill="#fff" stroke="#333" stroke-width="0.85"/>
<text x="354.10" y="180.00" font-size="7" text-anchor="start" font-weight="bold" fill="#000" >H30</text>
<line x1="371.90" y1="177.50" x2="387.50" y2="177.50" stroke="#1a1a1a" stroke-width="1.7" />
<circle cx="379.70" cy="177.50" r="1.5" fill="#fff" stroke="#333" stroke-width="0.85"/>
<text x="389.30" y="180.00" font-size="7" text-anchor="start" font-weight="bold" fill="#000" >H40</text>
</svg></body></html>
